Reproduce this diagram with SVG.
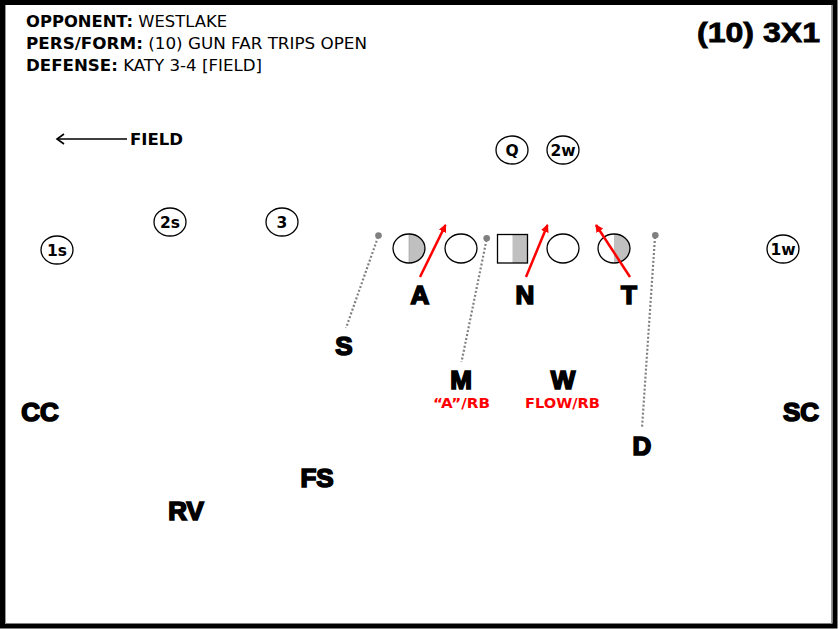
<svg xmlns="http://www.w3.org/2000/svg" width="840" height="629" viewBox="0 0 840 629">
<style>
.hdr{font-family:"DejaVu Sans",Verdana,sans-serif;font-size:15.5px;fill:#000}
.hb{font-weight:bold}
.ttl{font-family:"Liberation Sans",Arial,sans-serif;font-size:28px;font-weight:bold;fill:#000;stroke:#000;stroke-width:0.8}
.pl{fill:#fff;stroke:#000;stroke-width:1.3}
.pt{font-family:"DejaVu Sans",Verdana,sans-serif;font-size:15.5px;font-weight:bold;text-anchor:middle;fill:#000}
.def{font-family:"Liberation Sans",Arial,sans-serif;font-size:26px;font-weight:bold;text-anchor:middle;fill:#000;stroke:#000;stroke-width:1.7}
.note{font-family:"DejaVu Sans",Verdana,sans-serif;font-size:14px;font-weight:bold;text-anchor:middle;fill:#ff0000}
.dot{stroke:#808080;stroke-width:2.2;stroke-dasharray:2 2;fill:none}
.dh{fill:#808080}
.red{stroke:#ff0000;stroke-width:2.5;fill:none}
.shade{fill:#c0c0c0}
</style>
<defs>
<marker id="ra" markerWidth="8" markerHeight="8" refX="7" refY="4" orient="auto" markerUnits="userSpaceOnUse" viewBox="0 0 8 8">
<path d="M0,0 L8,4 L0,8 Z" fill="#ff0000"/>
</marker>
</defs>
<rect x="0" y="0" width="840" height="629" fill="#fff"/>
<rect x="2.5" y="2.5" width="832.5" height="623.5" fill="none" stroke="#000" stroke-width="5"/>
<line x1="5.5" y1="5" x2="5.5" y2="624" stroke="#999" stroke-width="1"/>
<line x1="831.5" y1="5" x2="831.5" y2="624" stroke="#999" stroke-width="1"/>

<g id="header">
<text class="hdr" x="26" y="27" textLength="201" lengthAdjust="spacingAndGlyphs"><tspan class="hb">OPPONENT:</tspan> WESTLAKE</text>
<text class="hdr" x="26" y="49" textLength="341" lengthAdjust="spacingAndGlyphs"><tspan class="hb">PERS/FORM:</tspan> (10) GUN FAR TRIPS OPEN</text>
<text class="hdr" x="26" y="71" textLength="236" lengthAdjust="spacingAndGlyphs"><tspan class="hb">DEFENSE:</tspan> KATY 3-4 [FIELD]</text>
<text class="ttl" x="697" y="42" textLength="123" lengthAdjust="spacingAndGlyphs">(10) 3X1</text>
</g>

<g id="field">
<line x1="58" y1="139" x2="127" y2="139" stroke="#000" stroke-width="1.6"/>
<path d="M64,134 L57,139 L64,144" fill="none" stroke="#000" stroke-width="1.6"/>
<text class="hdr hb" x="130" y="145" style="font-size:15px" textLength="53" lengthAdjust="spacingAndGlyphs">FIELD</text>
</g>

<g id="p-1s"><ellipse class="pl" cx="57" cy="250" rx="16" ry="14"/><text class="pt" x="57" y="255.5">1s</text></g>
<g id="p-2s"><ellipse class="pl" cx="170" cy="222" rx="16" ry="14"/><text class="pt" x="170" y="227.5">2s</text></g>
<g id="p-3"><ellipse class="pl" cx="282" cy="222" rx="16" ry="14"/><text class="pt" x="282" y="227.5">3</text></g>
<g id="p-q"><ellipse class="pl" cx="512" cy="150" rx="16" ry="14"/><text class="pt" x="512" y="155.5">Q</text></g>
<g id="p-2w"><ellipse class="pl" cx="563" cy="150" rx="16" ry="14"/><text class="pt" x="563" y="155.5">2w</text></g>
<g id="p-1w"><ellipse class="pl" cx="783" cy="249" rx="16" ry="14"/><text class="pt" x="783" y="254.5">1w</text></g>

<g id="ol-lt">
<ellipse cx="409" cy="248.5" rx="16" ry="14.5" fill="#fff"/>
<path class="shade" d="M409,234 A16,14.5 0 0 1 409,263 Z"/>
<line x1="409" y1="234" x2="409" y2="263" stroke="#999" stroke-width="0.6"/>
<ellipse cx="409" cy="248.5" rx="16" ry="14.5" fill="none" stroke="#000" stroke-width="1.3"/>
</g>
<g id="ol-lg"><ellipse class="pl" cx="461" cy="248.5" rx="16" ry="14.5"/></g>
<g id="ol-c">
<rect x="497.5" y="234.5" width="30" height="28.5" fill="#fff"/>
<rect x="512.5" y="234.5" width="15" height="28.5" class="shade"/>
<rect x="497.5" y="234.5" width="30" height="28.5" fill="none" stroke="#000" stroke-width="1.3"/>
</g>
<g id="ol-rg"><ellipse class="pl" cx="563" cy="248.5" rx="16" ry="14.5"/></g>
<g id="ol-rt">
<ellipse cx="614" cy="248.5" rx="16" ry="14.5" fill="#fff"/>
<path class="shade" d="M614,234 A16,14.5 0 0 1 614,263 Z"/>
<ellipse cx="614" cy="248.5" rx="16" ry="14.5" fill="none" stroke="#000" stroke-width="1.3"/>
</g>

<g id="connectors">
<line class="dot" x1="378" y1="237" x2="346" y2="328"/>
<circle class="dh" cx="378.5" cy="235.5" r="3.3"/>
<line class="dot" x1="486.5" y1="240" x2="461.5" y2="362"/>
<circle class="dh" cx="486.7" cy="238.3" r="3.3"/>
<line class="dot" x1="655" y1="237" x2="642" y2="428"/>
<circle class="dh" cx="655.3" cy="235.3" r="3.3"/>
<line class="red" x1="420" y1="277" x2="445.5" y2="225" marker-end="url(#ra)"/>
<line class="red" x1="526" y1="277" x2="547.5" y2="225" marker-end="url(#ra)"/>
<line class="red" x1="630" y1="277" x2="596" y2="225" marker-end="url(#ra)"/>
</g>

<g id="d-a"><text class="def" x="420" y="304">A</text></g>
<g id="d-n"><text class="def" x="525" y="304">N</text></g>
<g id="d-t"><text class="def" x="629" y="304">T</text></g>
<g id="d-s"><text class="def" x="344" y="355">S</text></g>
<g id="d-m"><text class="def" x="461" y="389">M</text><text class="note" x="461.5" y="408" textLength="57" lengthAdjust="spacingAndGlyphs">“A”/RB</text></g>
<g id="d-w"><text class="def" x="563" y="389">W</text><text class="note" x="562.5" y="408" textLength="75" lengthAdjust="spacingAndGlyphs">FLOW/RB</text></g>
<g id="d-d"><text class="def" x="642" y="455">D</text></g>
<g id="d-cc"><text class="def" x="40" y="421">CC</text></g>
<g id="d-sc"><text class="def" x="801" y="421">SC</text></g>
<g id="d-fs"><text class="def" x="317" y="487">FS</text></g>
<g id="d-rv"><text class="def" x="186" y="520">RV</text></g>
</svg>
